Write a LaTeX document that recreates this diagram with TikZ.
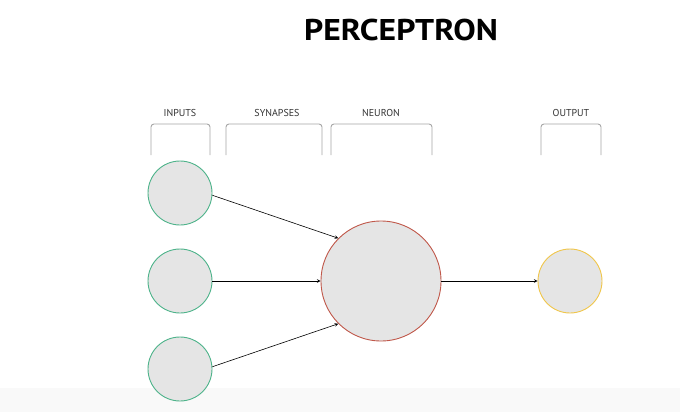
\documentclass[tikz,border=0pt]{standalone}
\usepackage{fontspec}
\setmainfont{PT Sans}
\definecolor{ing}{HTML}{4DB38A}
\definecolor{nr}{HTML}{C0584A}
\definecolor{oy}{HTML}{F0C64A}
\begin{document}
\begin{tikzpicture}[x=1pt,y=-1pt,
  inp/.style={circle,draw=ing,fill=gray!20,minimum size=64pt,inner sep=0pt,line width=0.9pt},
  lab/.style={font=\fontsize{10}{11}\selectfont,text=black!80},
  brk/.style={draw=gray!70,line width=0.9pt,rounded corners=3pt},
  arr/.style={-stealth,line width=0.6pt}]
\useasboundingbox (0,0) rectangle (680,412);
\fill[white] (0,0) rectangle (680,412);
\fill[gray!5] (0,388) rectangle (680,412);
\node[font=\bfseries\fontsize{30}{34}\selectfont,xscale=1.12] (title) at (401,30) {PERCEPTRON};
\node[lab] (li) at (180,113) {INPUTS};
\node[lab] (ls) at (277,113) {SYNAPSES};
\node[lab] (ln) at (381,113) {NEURON};
\node[lab] (lo) at (571,113) {OUTPUT};
\draw[brk] (151,155) -- (151,124) -- (210,124) -- (210,155);
\draw[brk] (226,155) -- (226,124) -- (322,124) -- (322,155);
\draw[brk] (331,155) -- (331,124) -- (432,124) -- (432,155);
\draw[brk] (541,155) -- (541,124) -- (601,124) -- (601,155);
\node[inp] (i1) at (180,193) {};
\node[inp] (i2) at (180,281) {};
\node[inp] (i3) at (180,369) {};
\node[circle,draw=nr,fill=gray!20,minimum size=120pt,inner sep=0pt,line width=0.9pt] (n) at (381,281) {};
\node[circle,draw=oy,fill=gray!20,minimum size=64pt,inner sep=0pt,line width=0.9pt] (o) at (570,281) {};
\draw[arr] (i1.-4) -- (n.135);
\draw[arr] (i2) -- (n);
\draw[arr] (i3.4) -- (n.225);
\draw[arr] (n) -- (o);
\end{tikzpicture}
\end{document}
